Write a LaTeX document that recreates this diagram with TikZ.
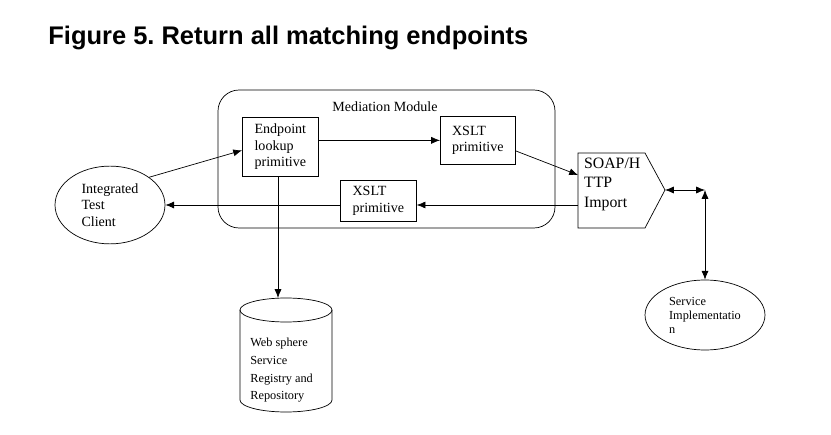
\documentclass[tikz,border=0pt]{standalone}
\usepackage{fontspec}
\setmainfont{Liberation Serif}
\newfontfamily\titlefont{Liberation Sans}
\usetikzlibrary{shapes.geometric,arrows.meta,positioning}
\frenchspacing
\tikzset{
  box/.style={draw,align=left,anchor=north west,inner sep=2pt,font=\footnotesize},
  arr/.style={-{Latex[length=5pt,width=4pt]}},
  darr/.style={{Latex[length=5pt,width=4pt]}-{Latex[length=5pt,width=4pt]}}
}
\begin{document}
\begin{tikzpicture}[x=0.02cm,y=-0.02cm]
  \useasboundingbox (0,0) rectangle (831,435);

  \node[anchor=west,inner sep=0pt,font=\titlefont\bfseries\fontsize{14.5}{16}\selectfont]
    (title) at (48,38) {Figure 5. Return all matching endpoints};

  % mediation module
  \draw[rounded corners=12pt] (218,90) rectangle (555,228);
  \node[font=\footnotesize] (med) at (385,107) {Mediation Module};

  \node[box,minimum width=1.52cm,minimum height=1.18cm] (lookup) at (242,117)
    {Endpoint\\lookup\\primitive};
  \node[box,minimum width=1.5cm,minimum height=0.96cm] (xsltA) at (440,116)
    {XSLT\\primitive};
  \node[box,minimum width=1.52cm,minimum height=0.82cm] (xsltB) at (340,180)
    {XSLT\\primitive};

  % SOAP/HTTP import
  \draw (578,153) -- (645,153) -- (665,190) -- (645,228) -- (578,228) -- cycle;
  \node[align=left,anchor=north west,font=\small,inner sep=1pt] (soap) at (582,156)
    {SOAP/H\\TTP\\Import};
  \coordinate (soapL) at (578,205);
  \coordinate (soapT) at (578,175);
  \coordinate (soapR) at (665,190);

  % client and service
  \node[draw,ellipse,minimum width=2.2cm,minimum height=1.48cm,align=left,font=\footnotesize]
    (client) at (110,205) {Integrated\\Test\\Client};
  \node[draw,ellipse,minimum width=2.4cm,minimum height=1.4cm,align=left,font=\scriptsize]
    (service) at (705,315) {Service\\Implementatio\\n};

  % registry
  \draw (240,310) -- (240,400) arc (180:0:46 and 12) -- (332,310);
  \draw (286,310) ellipse (46 and 12);
  \node[align=left,anchor=north west,inner sep=0pt,
        font=\scriptsize\linespread{1.25}\selectfont] (registry) at (250,338)
    {Web sphere\\Service\\Registry and\\Repository};
  \coordinate (regtop) at (278,298);

  \coordinate (junc) at (705,190);

  \draw[arr] (client.north east) -- ([yshift=-2pt]lookup.west);
  \draw[arr] (lookup.east |- xsltA.west) -- (xsltA.west);
  \draw[arr] ([yshift=-6pt]xsltA.east) -- (soapT);
  \draw[arr] (soapL) -- (soapL -| xsltB.east);
  \draw[arr] (soapL -| xsltB.west) -- (soapL -| client.east);
  \draw[arr] (lookup.south -| regtop) -- (regtop);
  \draw[darr] (soapR) -- (junc);
  \draw[darr] (junc) -- (service.north);
\end{tikzpicture}
\end{document}
